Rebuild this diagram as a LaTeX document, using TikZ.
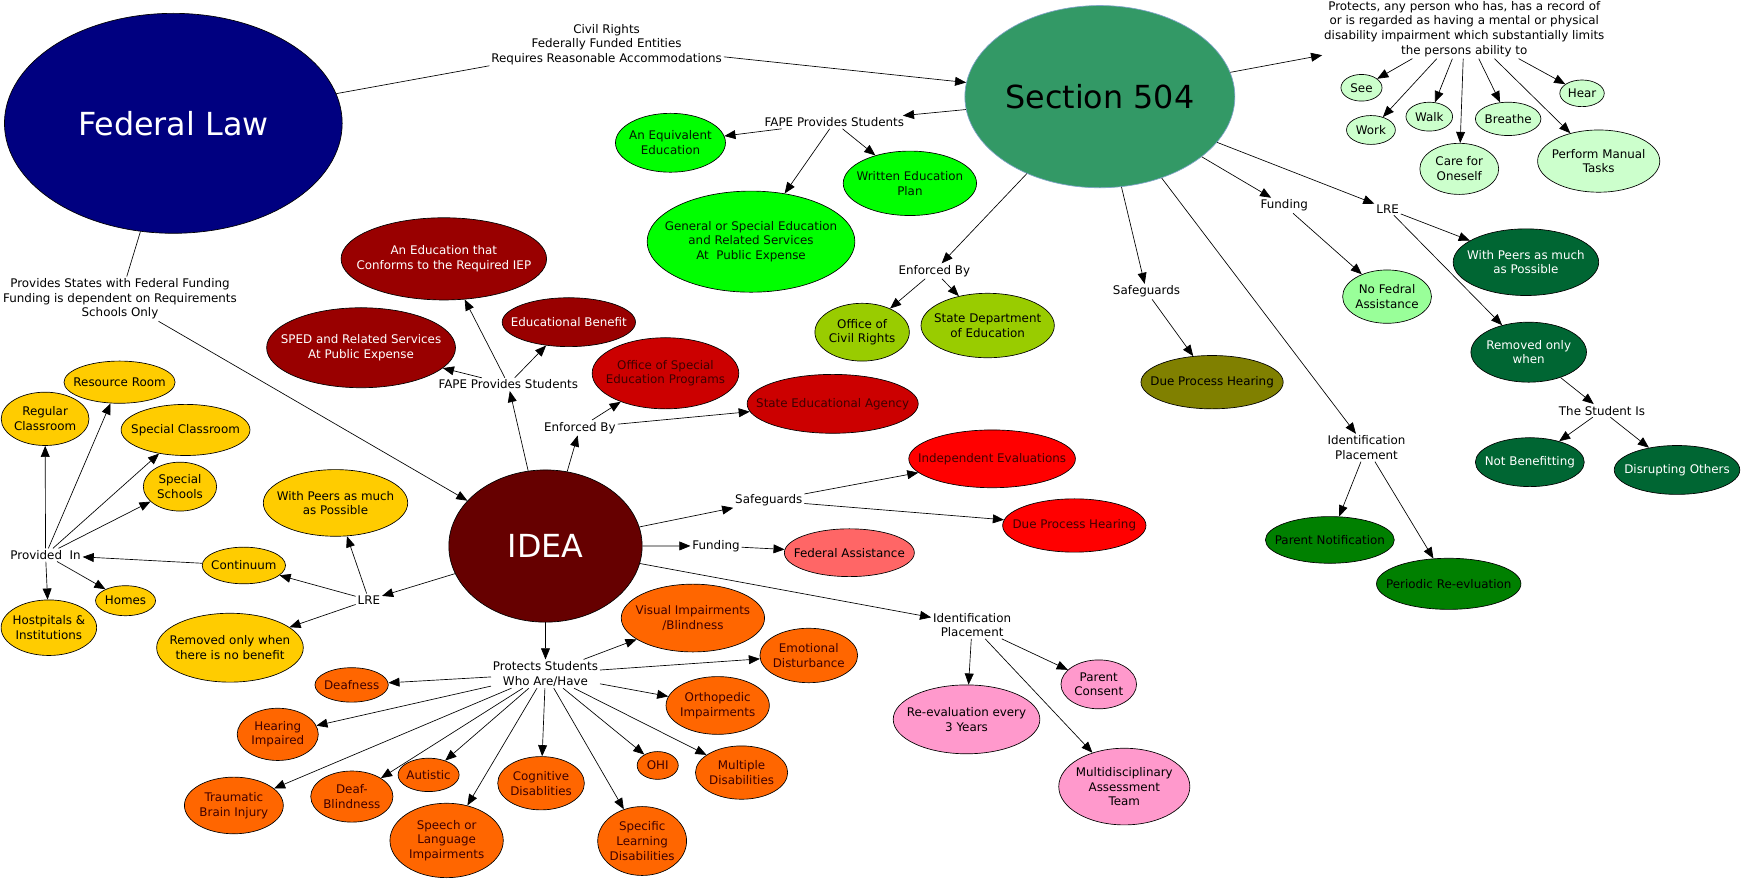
\documentclass[tikz,border=0pt]{standalone}
\usepackage{fontspec}
\setmainfont{DejaVu Sans}
\usepackage{xcolor}
\usepackage{tikz}
\usetikzlibrary{arrows.meta,shapes.geometric}

\definecolor{navyfill}{HTML}{000080}
\definecolor{seafill}{HTML}{339966}
\definecolor{seadraw}{HTML}{7FA3C8}
\definecolor{ideafill}{HTML}{660000}
\definecolor{limefill}{HTML}{00FF00}
\definecolor{ygfill}{HTML}{99CC00}
\definecolor{olivefill}{HTML}{808000}
\definecolor{mintfill}{HTML}{99FF99}
\definecolor{palefill}{HTML}{CCFFCC}
\definecolor{pinefill}{HTML}{006633}
\definecolor{greenfill}{HTML}{008000}
\definecolor{maroonfill}{HTML}{990000}
\definecolor{redfill}{HTML}{CC0000}
\definecolor{brightred}{HTML}{FF0000}
\definecolor{salmonfill}{HTML}{FF6666}
\definecolor{goldfill}{HTML}{FFCC00}
\definecolor{orangefill}{HTML}{FF6600}
\definecolor{pinkfill}{HTML}{FF99CC}
\definecolor{darkred}{HTML}{400000}

\begin{document}
\begin{tikzpicture}[
x=1pt,y=-1pt,
line width=0.6pt,
>={Triangle[length=10pt,width=8pt]},
every node/.style={font=\fontsize{10.7}{13.2}\selectfont},
concept/.style={ellipse,draw,inner xsep=-30pt,inner ysep=-8pt,align=center},
big/.style={concept,font=\fontsize{28.6}{32}\selectfont},
sz/.style 2 args={minimum width=#1,minimum height=#2},
lbl/.style={inner sep=1.5pt,align=center},
limebox/.style={concept,fill=limefill,text=black!90!green},
ygbox/.style={concept,fill=ygfill},
olivebox/.style={concept,fill=olivefill},
mintbox/.style={concept,fill=mintfill},
palebox/.style={concept,fill=palefill},
pinebox/.style={concept,fill=pinefill,text=white},
greenbox/.style={concept,fill=greenfill},
maroonbox/.style={concept,fill=maroonfill,text=white},
redbox/.style={concept,fill=redfill,text=darkred},
brightbox/.style={concept,fill=brightred,text=darkred},
salmonbox/.style={concept,fill=salmonfill},
goldbox/.style={concept,fill=goldfill},
orangebox/.style={concept,fill=orangefill,text=darkred},
pinkbox/.style={concept,fill=pinkfill}
]
\useasboundingbox (0,0) rectangle (1568,792);

% Main concepts
\node[big,fill=navyfill,text=white,sz={304}{198}] (fedlaw) at (156,111) {Federal Law};
\node[big,fill=seafill,draw=seadraw,sz={243}{164}] (s504) at (990,87) {Section 504};
\node[big,fill=ideafill,text=white,sz={174}{137}] (idea) at (491,491.5) {IDEA};

% Link labels
\node[lbl] (civil) at (546,40) {Civil Rights\\Federally Funded Entities\\Requires Reasonable Accommodations};
\node[lbl] (provides) at (108,269) {Provides States with Federal Funding\\Funding is dependent on Requirements\\Schools Only};
\node[lbl] (fape504) at (751,110) {FAPE Provides Students};
\node[lbl] (enf504) at (841,244) {Enforced By};
\node[lbl] (safe504) at (1032,262.5) {Safeguards};
\node[lbl] (fund504) at (1156,185) {Funding};
\node[lbl] (lre504) at (1249,188) {LRE};
\node[lbl] (protects504) at (1318,26) {Protects, any person who has, has a record of\\or is regarded as having a mental or physical\\disability impairment which substantially limits\\the persons ability to};
\node[lbl] (idp504) at (1230,403) {Identification\\Placement};
\node[lbl] (student) at (1442,369.6) {The Student Is};
\node[lbl] (fapeidea) at (457.5,346) {FAPE Provides Students};
\node[lbl] (enfidea) at (522,385) {Enforced By};
\node[lbl] (safeidea) at (692,450.6) {Safeguards};
\node[lbl] (fundidea) at (644.5,491.4) {Funding};
\node[lbl] (idpidea) at (875,562.5) {Identification\\Placement};
\node[lbl] (lreidea) at (332,540) {LRE};
\node[lbl] (provided) at (41,499.5) {Provided\ \ In};
\node[lbl] (protectsidea) at (491,606.5) {Protects Students\\Who Are/Have};

% Section 504 concepts
\node[limebox,sz={99}{53}] (aneq) at (603.5,128.5) {An Equivalent\\Education};
\node[limebox,sz={120}{58}] (wep) at (819,165) {Written Education\\Plan};
\node[limebox,sz={187}{91}] (gen) at (676,217.5) {General or Special Education\\and Related Services\\At\ \ Public Expense};
\node[ygbox,sz={85}{52}] (ocr) at (776,299) {Office of\\Civil Rights};
\node[ygbox,sz={120}{58}] (sde) at (889,293) {State Department\\of Education};
\node[olivebox,sz={128}{48}] (dph504) at (1091,344) {Due Process Hearing};
\node[mintbox,sz={80}{48}] (nofed) at (1248.5,267) {No Fedral\\Assistance};
\node[palebox,sz={37}{24}] (see) at (1225.5,79) {See};
\node[palebox,sz={44}{26}] (work) at (1234,117) {Work};
\node[palebox,sz={42}{26}] (walk) at (1286.5,105) {Walk};
\node[palebox,sz={71}{46}] (care) at (1313.5,152) {Care for\\Oneself};
\node[palebox,sz={59}{30}] (breathe) at (1357.5,107) {Breathe};
\node[palebox,sz={40}{24}] (hear) at (1424,84) {Hear};
\node[palebox,sz={110}{56}] (manual) at (1439,145) {Perform Manual\\Tasks};
\node[pinebox,sz={131}{60}] (peers504) at (1373.5,236) {With Peers as much\\as Possible};
\node[pinebox,sz={104}{54}] (removed504) at (1376,317) {Removed only\\when};
\node[pinebox,sz={98}{44}] (notben) at (1377,416) {Not Benefitting};
\node[pinebox,sz={113}{44}] (disrupt) at (1509.5,423) {Disrupting Others};
\node[greenbox,sz={116}{42}] (parnot) at (1197,486) {Parent Notification};
\node[greenbox,sz={130}{46}] (periodic) at (1304,525.5) {Periodic Re-evluation};

% IDEA concepts
\node[maroonbox,sz={170}{72}] (sped) at (325,313) {SPED and Related Services\\At Public Expense};
\node[maroonbox,sz={185}{74}] (iep) at (399.5,233) {An Education that\\Conforms to the Required IEP};
\node[maroonbox,sz={120}{44}] (edben) at (512,290) {Educational Benefit};
\node[redbox,sz={132}{64}] (osep) at (599,336) {Office of Special\\Education Programs};
\node[redbox,sz={154}{53}] (sea) at (749.5,363.5) {State Educational Agency};
\node[brightbox,sz={150}{52}] (indeval) at (893,413) {Independent Evaluations};
\node[brightbox,sz={129}{48}] (dphidea) at (967,473) {Due Process Hearing};
\node[salmonbox,sz={117}{43}] (fedassist) at (764.5,497.5) {Federal Assistance};
\node[pinkbox,sz={132}{62}] (reeval) at (870,647.5) {Re-evaluation every\\3 Years};
\node[pinkbox,sz={68}{44}] (consent) at (989,616) {Parent\\Consent};
\node[pinkbox,sz={118}{69}] (multi) at (1012,708) {Multidisciplinary\\Assessment\\Team};

% LRE placements
\node[goldbox,sz={130}{60}] (peersidea) at (302,452.7) {With Peers as much\\as Possible};
\node[goldbox,sz={75}{33}] (continuum) at (219.5,509) {Continuum};
\node[goldbox,sz={132}{62}] (removedidea) at (207,583) {Removed only when\\there is no benefit};
\node[goldbox,sz={100}{38}] (resroom) at (107.6,344) {Resource Room};
\node[goldbox,sz={79}{48}] (regular) at (40.6,377) {Regular\\Classroom};
\node[goldbox,sz={116}{46}] (specclass) at (167,387) {Special Classroom};
\node[goldbox,sz={66}{44}] (specschool) at (162,438) {Special\\Schools};
\node[goldbox,sz={54}{27}] (homes) at (113,540.7) {Homes};
\node[goldbox,sz={86}{50}] (hospitals) at (44,565) {Hostpitals \&\\Institutions};

% Disabilities
\node[orangebox,sz={66}{31}] (deafness) at (316.5,616.5) {Deafness};
\node[orangebox,sz={73}{47}] (hearing) at (250,661) {Hearing\\Impaired};
\node[orangebox,sz={89}{51}] (tbi) at (210.5,725) {Traumatic\\Brain Injury};
\node[orangebox,sz={74}{46}] (deafblind) at (316.7,717) {Deaf-\\Blindness};
\node[orangebox,sz={55}{30}] (autistic) at (385.8,697.5) {Autistic};
\node[orangebox,sz={102}{67}] (speech) at (402,756.5) {Speech or\\Language\\Impairments};
\node[orangebox,sz={78}{48}] (cognitive) at (487,705) {Cognitive\\Disablities};
\node[orangebox,sz={80}{62}] (sld) at (578,757) {Specific\\Learning\\Disabilities};
\node[orangebox,sz={37}{25}] (ohi) at (592,689) {OHI};
\node[orangebox,sz={83}{48}] (multiple) at (667.5,695.4) {Multiple\\Disabilities};
\node[orangebox,sz={93}{52}] (ortho) at (646,635) {Orthopedic\\Impairments};
\node[orangebox,sz={88}{49}] (emotional) at (728,590) {Emotional\\Disturbance};
\node[orangebox,sz={129}{61}] (visual) at (623.7,556.3) {Visual Impairments\\/Blindness};

% Federal Law links
\draw (fedlaw) -- (civil);
\draw[->] (civil) -- (s504);
\draw (fedlaw) -- (provides);
\draw[->] (provides) -- (idea);

% Section 504 links
\draw[->] (s504) -- (fape504);
\draw[->] (fape504) -- (aneq);
\draw[->] (fape504) -- (wep);
\draw[->] (fape504) -- (gen);
\draw[->] (s504) -- (enf504);
\draw[->] (enf504) -- (ocr);
\draw[->] (enf504) -- (sde);
\draw[->] (s504) -- (safe504);
\draw[->] (safe504) -- (dph504);
\draw[->] (s504) -- (idp504);
\draw[->] (idp504) -- (parnot);
\draw[->] (idp504) -- (periodic);
\draw[->] (s504) -- (fund504);
\draw[->] (fund504) -- (nofed);
\draw[->] (s504) -- (lre504);
\draw[->] (lre504) -- (peers504);
\draw[->] (lre504) -- (removed504);
\draw[->] (removed504) -- (student);
\draw[->] (student) -- (notben);
\draw[->] (student) -- (disrupt);
\draw[->] (s504) -- (protects504);
\foreach \t in {see,work,walk,care,breathe,hear,manual}
  \draw[->] (protects504) -- (\t);

% IDEA links
\draw[->] (idea) -- (fapeidea);
\draw[->] (fapeidea) -- (sped);
\draw[->] (fapeidea) -- (iep);
\draw[->] (fapeidea) -- (edben);
\draw[->] (idea) -- (enfidea);
\draw[->] (enfidea) -- (osep);
\draw[->] (enfidea) -- (sea);
\draw[->] (idea) -- (safeidea);
\draw[->] (safeidea) -- (indeval);
\draw[->] (safeidea) -- (dphidea);
\draw[->] (idea) -- (fundidea);
\draw[->] (fundidea) -- (fedassist);
\draw[->] (idea) -- (idpidea);
\draw[->] (idpidea) -- (reeval);
\draw[->] (idpidea) -- (consent);
\draw[->] (idpidea) -- (multi);

% LRE
\draw[->] (idea) -- (lreidea);
\draw[->] (lreidea) -- (peersidea);
\draw[->] (lreidea) -- (continuum);
\draw[->] (lreidea) -- (removedidea);
\draw[->] (continuum) -- (provided);
\foreach \t in {regular,resroom,specclass,specschool,hospitals,homes}
  \draw[->] (provided) -- (\t);

% Protects students
\draw[->] (idea) -- (protectsidea);
\foreach \t in {deafness,hearing,tbi,deafblind,autistic,speech,cognitive,sld,ohi,multiple,ortho,emotional,visual}
  \draw[->] (protectsidea) -- (\t);

\end{tikzpicture}
\end{document}
